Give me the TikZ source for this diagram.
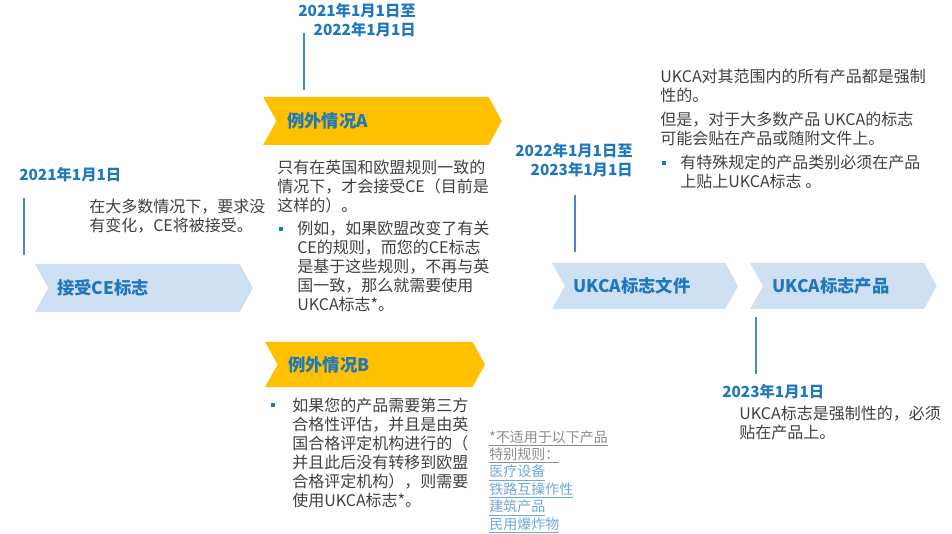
\documentclass[tikz,border=0pt]{standalone}
\usepackage{fontspec}
\setmainfont{Noto Sans CJK SC}
\usetikzlibrary{shapes.symbols, positioning}
\definecolor{bukca}{HTML}{1F77BC}
\definecolor{lukca}{HTML}{CFE0F3}
\definecolor{yukca}{HTML}{FFC000}
\definecolor{gukca}{HTML}{404040}
\definecolor{fukca}{HTML}{8C8C8C}
\definecolor{kukca}{HTML}{6FA8DC}

\begin{document}
\begin{tikzpicture}[x=0.75pt, y=-0.75pt,
                chev/.style={signal, signal to=east, signal from=west, signal pointer angle=122, inner sep=0, draw=none},
                title/.style={font=\fontsize{13}{15}\selectfont\bfseries, text=bukca, anchor=west, inner sep=0},
                date/.style={font=\fontsize{11.5}{14.5}\selectfont\bfseries, text=bukca, inner sep=0, align=right},
                body/.style={font=\fontsize{12}{14.25}\selectfont, text=gukca, inner sep=0, align=left, anchor=north west},
                dot/.style={fill=bukca, inner sep=0, minimum size=3.5pt},
                tick/.style={draw=bukca!85, line width=1pt}]
            \useasboundingbox (0,0) rectangle (952,534);
            % chevrons
            \node[chev, fill=lukca, minimum width=163.5pt, minimum height=36pt] (ce) at (144,288) {};
            \node[chev, fill=yukca, minimum width=179pt, minimum height=36pt] (exa) at (382.5,121) {};
            \node[chev, fill=yukca, minimum width=165pt, minimum height=34pt] (exb) at (375,364.5) {};
            \node[chev, fill=lukca, minimum width=139.5pt, minimum height=34.5pt] (doc) at (645,286) {};
            \node[chev, fill=lukca, minimum width=140pt, minimum height=34.5pt] (prod) at (843.5,286) {};
            \node[title] (cet) at (57,288) {接受CE标志};
            \node[title] (exat) at (287,121) {例外情况A};
            \node[title] (exbt) at (288,365) {例外情况B};
            \node[title] (doct) at (573,286) {UKCA标志文件};
            \node[title] (prodt) at (772,286) {UKCA标志产品};
            % dates
            \node[date, anchor=north east] (d1) at (416,3) {2021年1月1日至\\2022年1月1日};
            \node[date, anchor=north west] (d2) at (19,167) {2021年1月1日};
            \node[date, anchor=north east] (d3) at (633,143) {2022年1月1日至\\2023年1月1日};
            \node[date, anchor=north west] (d4) at (722,384) {2023年1月1日};
            % ticks
            \coordinate (t1a) at (304,33);  \coordinate (t1b) at (304,90);
            \coordinate (t2a) at (24,198);  \coordinate (t2b) at (24,255);
            \coordinate (t3a) at (575,195); \coordinate (t3b) at (575,252);
            \coordinate (t4a) at (756,317); \coordinate (t4b) at (756,374);
            \draw[tick] (t1a) -- (t1b);
            \draw[tick] (t2a) -- (t2b);
            \draw[tick] (t3a) -- (t3b);
            \draw[tick] (t4a) -- (t4b);
            % texts
            \node[body] (ce1) at (89,199) {在大多数情况下，要求没\\有变化，CE将被接受。};
            \node[body] (exa1) at (277,160) {只有在英国和欧盟规则一致的\\情况下，才会接受CE（目前是\\这样的）。};
            \node[dot] (exa2d) at (281,229) {};
            \node[body] (exa2) at (297,221) {例如，如果欧盟改变了有关\\CE的规则，而您的CE标志\\是基于这些规则，不再与英\\国一致，那么就需要使用\\UKCA标志*。};
            \node[dot] (exb1d) at (273,405) {};
            \node[body] (exb1) at (292,398) {如果您的产品需要第三方\\合格性评估，并且是由英\\国合格评定机构进行的（\\并且此后没有转移到欧盟\\合格评定机构），则需要\\使用UKCA标志*。};
            \node[body, font=\fontsize{10.5}{13.1}\selectfont, text=fukca] (note) at (489,430)
                {\underline{*不适用于以下产品}\\\underline{特别规则：}\\\textcolor{kukca}{\underline{医疗设备}}\\\textcolor{kukca}{\underline{铁路互操作性}}\\\textcolor{kukca}{\underline{建筑产品}}\\\textcolor{kukca}{\underline{民用爆炸物}}};
            \node[body] (doc1) at (660,69) {UKCA对其范围内的所有产品都是强制\\性的。};
            \node[body] (doc2) at (660,112) {但是，对于大多数产品 UKCA的标志\\可能会贴在产品或随附文件上。};
            \node[dot] (doc3d) at (664,163) {};
            \node[body] (doc3) at (680,155) {有特殊规定的产品类别必须在产品\\上贴上UKCA标志 。};
            \node[body] (prod1) at (739,406) {UKCA标志是强制性的，必须\\贴在产品上。};
        \end{tikzpicture}
\end{document}
